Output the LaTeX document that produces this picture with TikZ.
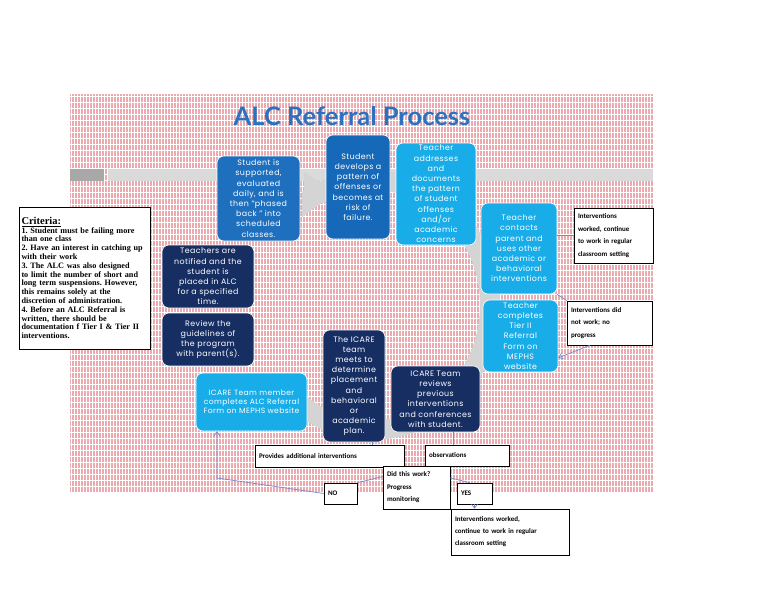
\documentclass[tikz,border=0pt]{standalone}
\usepackage{fontspec}
\setmainfont{Liberation Serif}
\newfontfamily\boxfont{Poppins}[LetterSpace=5]
\newfontfamily\calfont{Carlito}
\newfontfamily\titlefont{Lato}
\usetikzlibrary{arrows.meta,calc}
\definecolor{pinkbg}{RGB}{236,170,174}
\definecolor{ringgray}{RGB}{212,212,212}
\definecolor{bargray}{RGB}{168,168,168}
\definecolor{barlight}{RGB}{218,218,218}
\definecolor{midblue}{RGB}{30,112,190}
\definecolor{midbluetwo}{RGB}{22,104,184}
\definecolor{lightblue}{RGB}{24,172,232}
\definecolor{navy}{RGB}{22,46,98}
\definecolor{titleblue}{RGB}{44,112,190}
\definecolor{conn}{RGB}{118,138,200}
\tikzset{
  box/.style={rounded corners=7pt, text=white, align=center, draw=white, line width=0.6pt,
    font=\boxfont\fontsize{7.9}{10.2}\selectfont, inner sep=1pt},
  call/.style={draw=black, line width=0.6pt, fill=white, align=left, inner xsep=4pt, inner ysep=1pt,
    font=\calfont\bfseries\fontsize{7}{12.5}\selectfont},
  connline/.style={draw=conn, line width=0.7pt},
  tip/.style={-{Straight Barb[length=4pt,width=6pt]}}
}
\begin{document}
\begin{tikzpicture}[x=1pt,y=-1pt]
\useasboundingbox (0,0) rectangle (768,594);
\fill[white] (0,0) rectangle (768,594);
% slide pattern
\fill[pinkbg] (70,94) rectangle (653,493);
\foreach \x in {71,74,...,653} \draw[white,line width=0.8pt] (\x,94) -- (\x,493);
\foreach \y in {96,102,...,492} \draw[white,line width=0.7pt] (70,\y) -- (653,\y);
% gray bar
\fill[bargray] (70,169) rectangle (104,181);
\fill[barlight] (108,169) rectangle (653,181);
% ring
\begin{scope}
\clip (302,0) -- (768,0) -- (768,594) -- (280,594) -- (280,412) -- (302,412) -- cycle;
\draw[ringgray,line width=20pt] (372,305) ellipse [x radius=118pt, y radius=125pt];
\end{scope}
\fill[ringgray] (304,172) -- (326,186) -- (304,202) -- cycle;
% title
\node[text=titleblue, font=\titlefont\bfseries\fontsize{25.5}{28}\selectfont] (title) at (352,116) {ALC Referral Process};
% process boxes
\node[box, fill=midblue, minimum width=83pt, minimum height=85pt] (b1) at (258.5,198.5)
  {Student is\\supported,\\evaluated\\daily, and is\\then “phased\\back ” into\\scheduled\\classes.};
\node[box, fill=midbluetwo, minimum width=64pt, minimum height=104pt] (b2) at (358,187)
  {Student\\develops a\\pattern of\\offenses or\\becomes at\\risk of\\failure.};
\node[box, fill=lightblue, minimum width=80pt, minimum height=102pt] (b3) at (436,194)
  {Teacher\\addresses\\and\\documents\\the pattern\\of student\\offenses\\and/or\\academic\\concerns};
\node[box, fill=lightblue, minimum width=76pt, minimum height=91pt] (b4) at (519,248.5)
  {Teacher\\contacts\\parent and\\uses other\\academic or\\behavioral\\interventions};
\node[box, fill=lightblue, minimum width=75pt, minimum height=72pt] (b5) at (520.5,336)
  {Teacher\\completes\\Tier II\\Referral\\Form on\\MEPHS\\website};
\node[box, fill=navy, minimum width=89pt, minimum height=66pt] (b6) at (435.5,399)
  {ICARE Team\\reviews\\previous\\interventions\\and conferences\\with student.};
\node[box, fill=navy, minimum width=62pt, minimum height=112pt] (b7) at (354,386)
  {The ICARE\\team\\meets to\\determine\\placement\\and\\behavioral\\or\\academic\\plan.};
\node[box, fill=lightblue, minimum width=111pt, minimum height=58pt, font=\boxfont\fontsize{7.6}{9}\selectfont] (b8) at (251.5,402)
  {ICARE Team member\\completes ALC Referral\\Form on MEPHS website};
\node[box, fill=navy, minimum width=92pt, minimum height=53pt] (b9) at (208,339.5)
  {Review the\\guidelines of\\the program\\with parent(s).};
\node[box, fill=navy, minimum width=92pt, minimum height=63pt] (b10) at (208,276.5)
  {Teachers are\\notified and the\\student is\\placed in ALC\\for a specified\\time.};
% criteria
\node[draw=black, line width=0.8pt, fill=white, align=left, text width=126pt, minimum height=142pt,
  inner xsep=2.5pt, font=\frenchspacing\bfseries\fontsize{8.2}{8.8}\selectfont] (crit) at (84.5,278)
  {{\fontsize{10.5}{12}\selectfont\underline{Criteria:}}\\
   1. Student must be failing more\\
   than one class\\
   2. Have an interest in catching up\\
   with their work\\
   3. The ALC was also designed\\
   to limit the number of short and\\
   long term suspensions. However,\\
   this remains solely at the\\
   discretion of administration.\\
   4. Before an ALC Referral is\\
   written, there should be\\
   documentation f Tier I \& Tier II\\
   interventions.\\[8pt]};
% callouts
\node[call, text width=71pt, minimum height=55pt] (cB) at (613.5,235.5)
  {Interventions\\worked, continue\\to work in regular\\classroom setting};
\node[call, text width=77pt, minimum height=44pt] (cC) at (609.5,323)
  {Interventions did\\not work; no\\progress};
\node[call, text width=141pt, minimum height=22pt] (cD) at (329.5,456)
  {Provides additional interventions};
\node[call, text width=76pt, minimum height=21pt] (cE) at (467,455.5)
  {observations};
\node[call, text width=59pt, minimum height=43pt] (cF) at (416.5,487.5)
  {Did this work?\\Progress\\monitoring};
\node[call, text width=25pt, minimum height=21pt] (cNO) at (340.5,493.5) {NO};
\node[call, text width=27pt, minimum height=21pt] (cYES) at (474.5,493.5) {YES};
\node[call, text width=110pt, minimum height=46pt, font=\calfont\bfseries\fontsize{7}{12}\selectfont] (cI) at (510,532)
  {Interventions worked,\\continue to work in regular\\classroom setting};
% connectors
\coordinate (k1) at (217,478);
\draw[connline] (cB.west) -- (cB.west -| b4.east);
\draw[connline] (b4.south east) -- (cC.north west);
\draw[connline, tip] ($(cC.south west)!0.27!(cC.south east)$) -- ($(b5.north east)!0.8!(b5.south east)$);
\draw[connline] ($(b7.south west)!0.8!(b7.south east)$) coordinate (t7) -- (t7 |- cD.north);
\draw[connline] ($(b6.south west)!0.7!(b6.south east)$) coordinate (t6) -- (t6 |- cE.north);
\draw[connline] ($(cF.north west)!0.25!(cF.south west)$) -- (cNO.north east);
\draw[connline, tip] (cNO.west) -- (k1) -- (k1 |- b8.south);
\draw[connline] ($(cF.north east)!0.28!(cF.south east)$) -- ($(cYES.north west)!0.37!(cYES.north east)$);
\draw[connline, tip] (cYES.south) -- (cYES.south |- cI.north);
\end{tikzpicture}
\end{document}
